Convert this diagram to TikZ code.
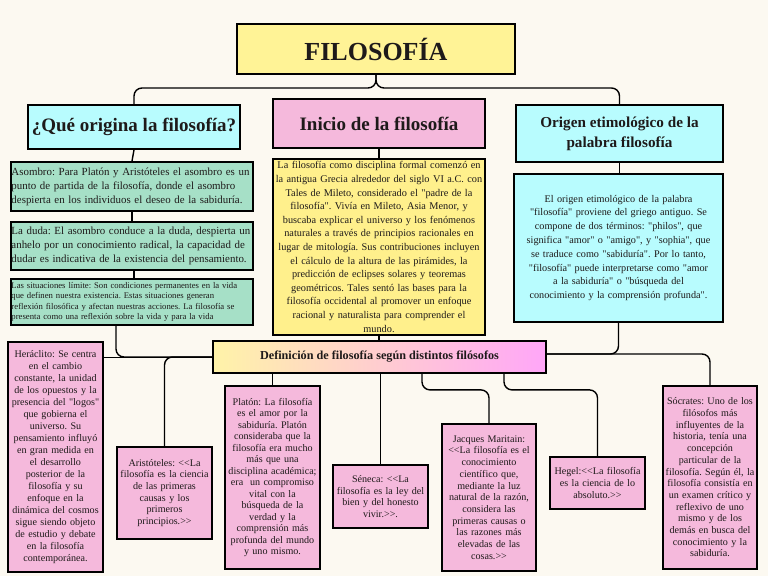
\documentclass[tikz,border=0pt]{standalone}
\usepackage{fontspec}
\newfontfamily\bodyfont{Liberation Serif}
\usetikzlibrary{calc}
\definecolor{bgc}{HTML}{FCF9F1}
\definecolor{titleY}{HTML}{FFF396}
\definecolor{cyanB}{HTML}{B8FCFE}
\definecolor{pinkB}{HTML}{F5B9DC}
\definecolor{greenB}{HTML}{A6E0C7}
\definecolor{yellowT}{HTML}{FFF08C}
\definecolor{gradL}{HTML}{FFF3A8}
\definecolor{gradR}{HTML}{FFA6F8}
\definecolor{ink}{HTML}{1E1A1A}
\newcommand{\fs}[2]{\fontsize{#1}{#2}\selectfont}
\tikzset{
  box/.style={draw=black, line width=1.8pt, inner xsep=0pt, inner ysep=1pt, text=ink},
  conn/.style={draw=black, line width=1.4pt, rounded corners=8pt},
  thinconn/.style={draw=black, line width=1pt},
  fbody/.style 2 args={font=\bodyfont\frenchspacing\fs{#1}{#2}},
  pinkbox/.style={box, fill=pinkB, align=center},
}
\begin{document}
\begin{tikzpicture}[x=1pt,y=-1pt]
\useasboundingbox[fill=bgc] (0,0) rectangle (768,576);

% top level
\node[box, fill=titleY, minimum width=278, minimum height=50, font=\bodyfont\bfseries\fs{26}{30}] (title) at (376,49)
  {FILOSOFÍA};
\node[box, fill=cyanB, minimum width=212, minimum height=44, font=\bodyfont\bfseries\fs{19}{22}] (q1) at (134,127)
  {¿Qué origina la filosofía?};
\node[box, fill=pinkB, minimum width=212, minimum height=49, font=\bodyfont\bfseries\fs{19}{22}] (q2) at (379,123.5)
  {Inicio de la filosofía};
\node[box, fill=cyanB, minimum width=207, minimum height=57, align=center, font=\bodyfont\bfseries\fs{15.2}{20}] (q3) at (619.5,133.5)
  {Origen etimológico de la\\ palabra filosofía};

% left column
\node[box, fill=greenB, minimum width=242, minimum height=49, text width=241, align=left, fbody={10.9}{14}] (asombro) at (132,186.5)
  {Asombro: Para Platón y Aristóteles el asombro es un\\punto de partida de la filosofía, donde el asombro\\despierta en los individuos el deseo de la sabiduría.};
\node[box, fill=greenB, minimum width=242, minimum height=48, text width=241, align=left, fbody={10.9}{14}] (duda) at (132,246)
  {La duda: El asombro conduce a la duda, despierta un\\anhelo por un conocimiento radical, la capacidad de\\dudar es indicativa de la existencia del pensamiento.};
\node[box, fill=greenB, minimum width=242, minimum height=46, text width=241, align=left, fbody={8.7}{10.3}] (limite) at (132,302)
  {Las situaciones límite: Son condiciones permanentes en la vida\\que definen nuestra existencia. Estas situaciones generan\\reflexión filosófica y afectan nuestras acciones. La filosofía se\\presenta como una reflexión sobre la vida y para la vida};

% middle column
\node[box, fill=yellowT, minimum width=212, minimum height=176, text width=211, align=center, fbody={10.3}{13.6}] (inicioT) at (379,247)
  {La filosofía como disciplina formal comenzó en\\la antigua Grecia alrededor del siglo VI a.C. con\\Tales de Mileto, considerado el "padre de la\\filosofía". Vivía en Mileto, Asia Menor, y\\buscaba explicar el universo y los fenómenos\\naturales a través de principios racionales en\\lugar de mitología. Sus contribuciones incluyen\\el cálculo de la altura de las pirámides, la\\predicción de eclipses solares y teoremas\\geométricos. Tales sentó las bases para la\\filosofía occidental al promover un enfoque\\racional y naturalista para comprender el\\mundo.};

% right column
\node[box, fill=cyanB, minimum width=209, minimum height=148, text width=207, align=center, fbody={10.2}{13.8}] (origenT) at (618.5,248)
  {El origen etimológico de la palabra\\"filosofía" proviene del griego antiguo. Se\\compone de dos términos: "philos", que\\significa "amor" o "amigo", y "sophia", que\\se traduce como "sabiduría". Por lo tanto,\\"filosofía" puede interpretarse como "amor\\a la sabiduría" o "búsqueda del\\conocimiento y la comprensión profunda".};

% definition bar
\node[box, left color=gradL, right color=gradR, minimum width=333, minimum height=32, font=\bodyfont\bfseries\fs{12.2}{14}] (def) at (379.5,357)
  {Definición de filosofía según distintos filósofos};

% philosophers
\node[pinkbox, minimum width=95, minimum height=230, text width=94, fbody={10.1}{12}] (herac) at (55.5,457)
  {Heráclito: Se centra\\en el cambio\\constante, la unidad\\de los opuestos y la\\presencia del "logos"\\que gobierna el\\universo. Su\\pensamiento influyó\\en gran medida en\\el desarrollo\\posterior de la\\filosofía y su\\enfoque en la\\dinámica del cosmos\\sigue siendo objeto\\de estudio y debate\\en la filosofía\\contemporánea.};
\node[pinkbox, minimum width=95, minimum height=92, text width=94, fbody={10.1}{11.7}] (arist) at (164.5,493)
  {Aristóteles: <<La\\filosofía es la ciencia\\de las primeras\\causas y los\\primeros\\principios.>>};
\node[pinkbox, minimum width=95, minimum height=183, text width=94, fbody={10.1}{11.5}] (platon) at (272.5,477.5)
  {Platón: La filosofía\\es el amor por la\\sabiduría. Platón\\consideraba que la\\filosofía era mucho\\más que una\\disciplina académica;\\era \ un compromiso\\vital con la\\búsqueda de la\\verdad y la\\comprensión más\\profunda del mundo\\y uno mismo.};
\node[pinkbox, minimum width=95, minimum height=63, text width=94, fbody={10.1}{11.5}] (seneca) at (380.5,496.5)
  {Séneca: <<La\\filosofía es la ley del\\bien y del honesto\\vivir.>>.};
\node[pinkbox, minimum width=94, minimum height=147, text width=93, fbody={10.1}{11.7}] (marit) at (489,497.5)
  {Jacques Maritain:\\<<La filosofía es el\\conocimiento\\científico que,\\mediante la luz\\natural de la razón,\\considera las\\primeras causas o\\las razones más\\elevadas de las\\cosas.>>};
\node[pinkbox, minimum width=95, minimum height=52, text width=94, fbody={10.1}{11.7}] (hegel) at (597.5,483)
  {Hegel:<<La filosofía\\es la ciencia de lo\\absoluto.>>};
\node[pinkbox, minimum width=94, minimum height=183, text width=93, fbody={10.1}{11.7}] (socr) at (710,477.5)
  {Sócrates: Uno de los\\filósofos más\\influyentes de la\\historia, tenía una\\concepción\\particular de la\\filosofía. Según él, la\\filosofía consistía en\\un examen crítico y\\reflexivo de uno\\mismo y de los\\demás en busca del\\conocimiento y la\\sabiduría.};

% connectors
\coordinate (tb) at (376,88);
\draw[conn] (title.south) -- (tb) -| (q1.north);
\draw[conn] (title.south) -- (tb) -| (q3.north);
\draw[conn] (q1.south) -- (asombro.north);
\draw[conn] (asombro.south) -- (duda.north);
\draw[conn] ([xshift=2]duda.south) -- ([xshift=2]limite.north);
\draw[conn] ([xshift=-16]limite.south) |- (def.west);
\draw[thinconn] (herac.east |- def.west) -- (def.west);
\draw[conn] (arist.north) |- (def.west);
\draw[conn] (q2.south) -- (inicioT.north);
\draw[conn] (inicioT.south) -- (inicioT.south |- def.north);
\draw[conn] (q3.south) -- (q3.south |- origenT.north);
\draw[conn] (origenT.south) |- ([yshift=3]def.east);
\draw[conn] ([yshift=3]def.east) -| (socr.north);
\draw[conn] (def.south -| platon.north) -- (platon.north);
\draw[conn] (def.south -| seneca.north) -- (seneca.north);
\draw[conn] ([xshift=42.5]def.south) -- ++(0,16) -| (marit.north);
\draw[conn] ([xshift=124.5]def.south) -- ++(0,16) -| (hegel.north);
\end{tikzpicture}
\end{document}
